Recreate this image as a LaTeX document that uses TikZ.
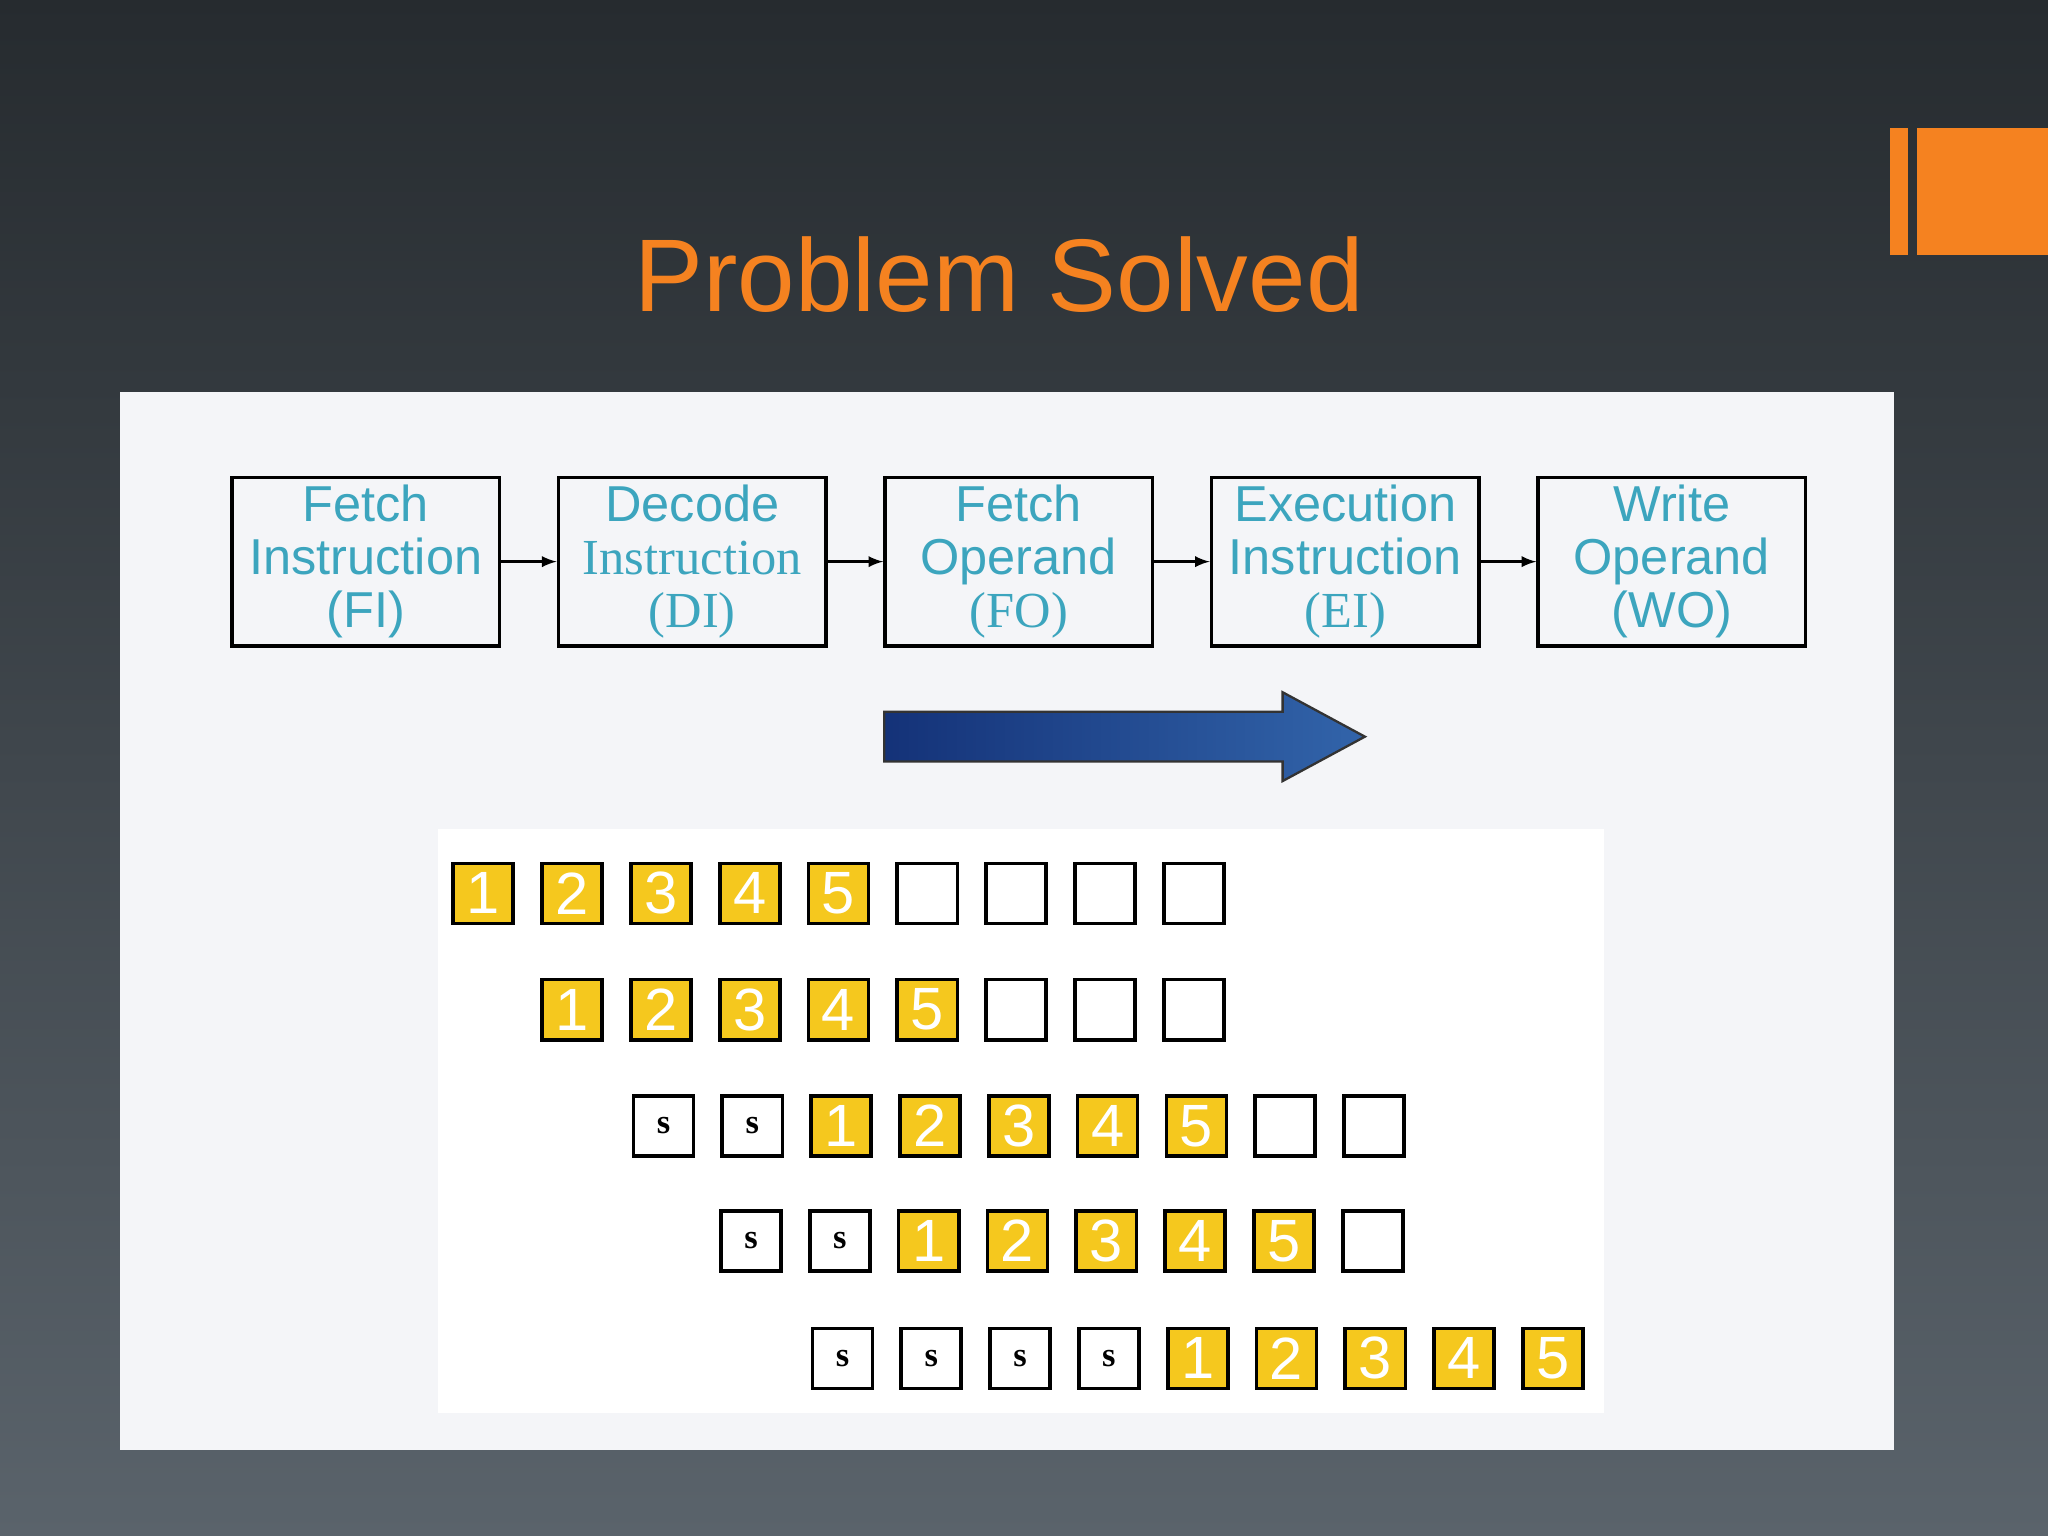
\documentclass[tikz,border=0pt]{standalone}
\usepackage{fontspec}
\setmainfont{Liberation Sans}
\newfontfamily\serifx{Liberation Serif}
\definecolor{org}{RGB}{245,130,32}
\definecolor{panel}{RGB}{244,245,248}
\definecolor{teal2}{RGB}{60,165,190}
\definecolor{ylw}{RGB}{245,200,30}
\definecolor{bgtop}{RGB}{38,43,47}
\definecolor{bgbot}{RGB}{90,99,107}
\definecolor{ardark}{RGB}{20,50,120}
\definecolor{arlight}{RGB}{50,100,170}
\begin{document}
\begin{tikzpicture}[x=0.02cm,y=-0.02cm,
  stage/.style={draw=black,line width=1.5pt,minimum width=4.1cm,minimum height=2.58cm,inner sep=0pt,align=center,text=teal2,font=\fontsize{22}{23}\selectfont},
  cell/.style={draw=black,line width=1.6pt,minimum size=0.92cm,inner sep=0pt},
  yc/.style={cell,fill=ylw,text=white,font=\fontsize{26}{26}\selectfont},
  sc/.style={cell,fill=white,font=\serifx\bfseries\fontsize{15}{15}\selectfont},
  ec/.style={cell,fill=white},
  link/.style={-latex,line width=1.2pt}]
\fill[top color=bgtop,bottom color=bgbot] (0,0) rectangle (1568,1176);
\useasboundingbox (0,0) rectangle (1568,1176);
\fill[org] (1447,98) rectangle (1461,195);
\fill[org] (1468,98) rectangle (1568,195);
\node[text=org,font=\fontsize{45}{47}\selectfont] (title) at (765,210) {Problem Solved};
\fill[panel] (92,300) rectangle (1450,1110);
\fill[white] (335,635) rectangle (1228,1082);
\node[stage] (fi) at (280,430) {Fetch\\Instruction\\(FI)};
\node[stage] (di) at (530,430) {Decode\\{\serifx Instruction}\\{\serifx(DI)}};
\node[stage] (fo) at (780,430) {Fetch\\Operand\\{\serifx(FO)}};
\node[stage] (ei) at (1030,430) {Execution\\Instruction\\{\serifx(EI)}};
\node[stage] (wo) at (1280,430) {Write\\Operand\\(WO)};
\draw[link] (fi) -- (di); \draw[link] (di) -- (fo); \draw[link] (fo) -- (ei); \draw[link] (ei) -- (wo);
\shade[left color=ardark, right color=arlight, draw=black!80, line width=1pt]
 (677,545) -- (982,545) -- (982,530) -- (1045,564) -- (982,598) -- (982,583) -- (677,583) -- cycle;
\def\tE{e}\def\tS{s}
\foreach \r/\y/\x/\list in {
 1/684/370/{1,2,3,4,5,e,e,e,e},
 2/773/438/{1,2,3,4,5,e,e,e},
 3/862/508/{s,s,1,2,3,4,5,e,e},
 4/950/575/{s,s,1,2,3,4,5,e},
 5/1040/645/{s,s,s,s,1,2,3,4,5}}{
 \foreach \t [count=\i from 0] in \list {
  \pgfmathsetmacro\xx{\x+68*\i}
  \edef\tt{\t}
  \ifx\tt\tE \node[ec] (c\r-\i) at (\xx,\y) {};
  \else\ifx\tt\tS \node[sc] (c\r-\i) at (\xx,\y) {s};
  \else \node[yc] (c\r-\i) at (\xx,\y) {\t};\fi\fi
 }}
\end{tikzpicture}
\end{document}
